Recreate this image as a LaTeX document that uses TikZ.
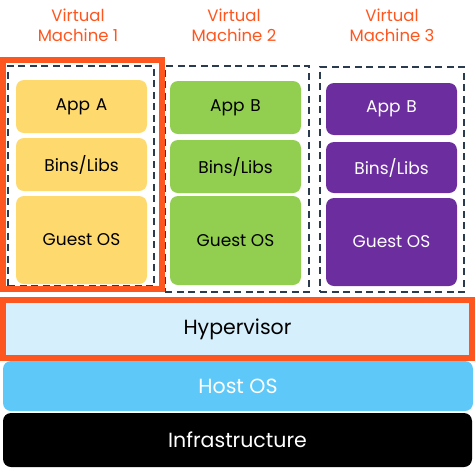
\documentclass[tikz,border=0pt]{standalone}
\usepackage{fontspec}
\setmainfont{Poppins}
\definecolor{vmorange}{HTML}{FE561F}
\definecolor{dashc}{HTML}{2A3B4F}
\definecolor{yel}{HTML}{FDD96E}
\definecolor{grn}{HTML}{92CF50}
\definecolor{pur}{HTML}{6C2E9F}
\definecolor{hostc}{HTML}{5EC9F8}
\definecolor{hypc}{HTML}{D5F0FC}
\begin{document}
\begin{tikzpicture}[x=1pt,y=-1pt,
  lay/.style={rounded corners=8pt,inner sep=0pt,font=\fontsize{17}{19}\selectfont},
  base/.style={rounded corners=8pt,inner sep=0pt,font=\fontsize{20.5}{22}\selectfont},
  vmbox/.style={draw=dashc,line width=2pt,dash pattern=on 7pt off 4.5pt,inner sep=0pt},
  frame/.style={draw=vmorange,line width=6pt,inner sep=0pt},
  vmlabel/.style={text=vmorange,align=center,font=\fontsize{16.5}{20}\selectfont}]
\useasboundingbox (0,0) rectangle (475,467);
% labels
\node[vmlabel] (l1) at (78,25) {Virtual\\Machine 1};
\node[vmlabel] (l2) at (234,25) {Virtual\\Machine 2};
\node[vmlabel] (l3) at (392,25) {Virtual\\Machine 3};
% VM dashed boxes
\node[vmbox,minimum width=146pt,minimum height=220pt] (vm1) at (81,176) {};
\node[vmbox,minimum width=144pt,minimum height=226pt] (vm2) at (237,179) {};
\node[vmbox,minimum width=144pt,minimum height=225pt] (vm3) at (392,179.5) {};
% VM1 layers
\node[lay,fill=yel,minimum width=131pt,minimum height=53pt] (appA) at (81.5,106.5) {App\,\,A};
\node[lay,fill=yel,minimum width=131pt,minimum height=53pt] (binsA) at (81.5,164.5) {Bins/Libs};
\node[lay,fill=yel,minimum width=131pt,minimum height=88pt] (osA) at (81.5,240) {Guest OS};
% VM2 layers
\node[lay,fill=grn,minimum width=131pt,minimum height=53pt] (appB) at (235.5,107.5) {App\,\,B};
\node[lay,fill=grn,minimum width=131pt,minimum height=53pt] (binsB) at (235.5,166.5) {Bins/Libs};
\node[lay,fill=grn,minimum width=131pt,minimum height=89pt] (osB) at (235.5,240.5) {Guest OS};
% VM3 layers
\node[lay,fill=pur,text=white,minimum width=131pt,minimum height=52pt] (appC) at (391.5,109) {App\,\,B};
\node[lay,fill=pur,text=white,minimum width=131pt,minimum height=51pt] (binsC) at (391.5,167.5) {Bins/Libs};
\node[lay,fill=pur,text=white,minimum width=131pt,minimum height=88pt] (osC) at (391.5,242) {Guest OS};
% orange frame around VM1
\node[frame,minimum width=159pt,minimum height=229pt] (f1) at (82.5,174.5) {};
% bottom layers
\node[base,fill=hostc,text=white,minimum width=470pt,minimum height=50pt] (host) at (238,386) {Host OS};
\node[base,fill=black,text=white,minimum width=469pt,minimum height=54pt] (infra) at (237.5,440) {Infrastructure};
\node[frame,fill=hypc,font=\fontsize{20.5}{22}\selectfont,minimum width=469pt,minimum height=58pt] (hyp) at (237.5,329) {Hypervisor};
\end{tikzpicture}
\end{document}
